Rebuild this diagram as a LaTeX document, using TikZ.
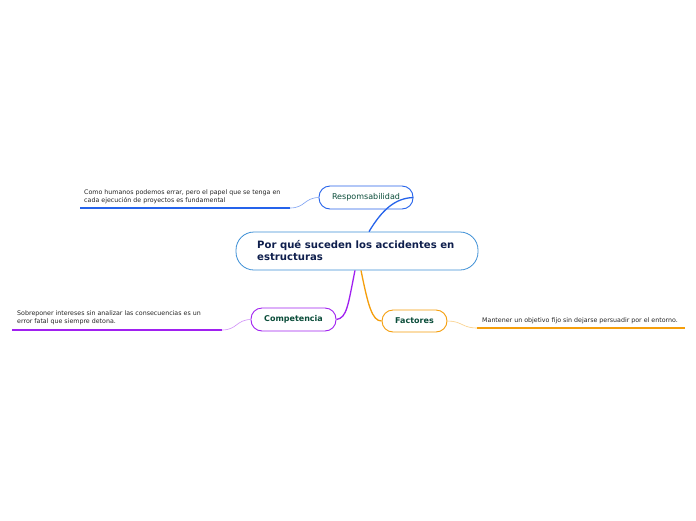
\documentclass[tikz,border=0pt]{standalone}
\usepackage{fontspec}
\setmainfont{DejaVu Sans}
\begin{document}
\begin{tikzpicture}[x=1pt,y=-1pt,
  topic/.style={draw, rounded corners=11pt, line width=0.9pt, fill=white, inner sep=0pt, align=center},
  leaftext/.style={anchor=west, align=left, inner sep=0pt, font=\fontsize{6.3}{8}\selectfont, text=black!85},
  link/.style={line width=1.3pt},
  thinlink/.style={line width=0.6pt}]
\definecolor{cblue}{HTML}{2563EB}
\definecolor{cpurple}{HTML}{A020F0}
\definecolor{corange}{HTML}{F59E0B}
\definecolor{ctxt}{HTML}{0B4D3A}
\definecolor{cnavy}{HTML}{0F1F4D}
\definecolor{cmain}{HTML}{3D8FD6}
\useasboundingbox[fill=white] (0,0) rectangle (696,520);
% central
\node[draw=cmain, rounded corners=18pt, line width=0.8pt, minimum width=242pt, minimum height=38pt, fill=white] (central) at (357,251) {};
\node[anchor=west, align=left, inner sep=0pt, text=cnavy, font=\bfseries\fontsize{10.1}{12}\selectfont] (ctitle) at (257,251) {Por qué suceden los accidentes en\\estructuras};
% topics
\node[topic, draw=cblue, minimum width=94pt, minimum height=23pt, text=ctxt, font=\fontsize{8}{10}\selectfont] (resp) at (366,197.5) {Respomsabilidad};
\node[topic, draw=cpurple, minimum width=85pt, minimum height=23pt, text=ctxt, font=\bfseries\fontsize{8}{10}\selectfont] (comp) at (293.5,319.5) {Competencia};
\node[topic, draw=corange, minimum width=65pt, minimum height=22pt, text=ctxt, font=\bfseries\fontsize{8}{10}\selectfont] (fact) at (414.5,321) {Factores};
% main connectors
\draw[link, cblue] ([xshift=12pt]central.north) .. controls (382,210) and (395,198) .. (resp.east);
\draw[link, cpurple] ([xshift=-2pt]central.south) .. controls (348,305) and (347,318) .. (comp.east);
\draw[link, corange] ([xshift=4pt]central.south) .. controls (368,305) and (372,321) .. (fact.west);
% leaves
\node[leaftext] (t1) at (84,197) {Como humanos podemos errar, pero el papel que se tenga en\\cada ejecución de proyectos es fundamental};
\coordinate (u1a) at (80,208); \coordinate (u1b) at (290,208);
\draw[line width=1.8pt, cblue] (u1a) -- (u1b);
\draw[thinlink, cblue!60] (u1b) .. controls (305,208) and (304,198) .. (resp.west);

\node[leaftext] (t2) at (17,318) {Sobreponer intereses sin analizar las consecuencias es un\\error fatal que siempre detona.};
\coordinate (u2a) at (12,330); \coordinate (u2b) at (222,330);
\draw[line width=1.8pt, cpurple] (u2a) -- (u2b);
\draw[thinlink, cpurple!50] (u2b) .. controls (237,330) and (236,320) .. (comp.west);

\node[leaftext] (t3) at (482,320.5) {Mantener un objetivo fijo sin dejarse persuadir por el entorno.};
\coordinate (u3a) at (477,328); \coordinate (u3b) at (685,328);
\draw[line width=1.8pt, corange] (u3a) -- (u3b);
\draw[thinlink, corange!50] (fact.east) .. controls (462,321) and (462,328) .. (u3a);
\end{tikzpicture}
\end{document}
